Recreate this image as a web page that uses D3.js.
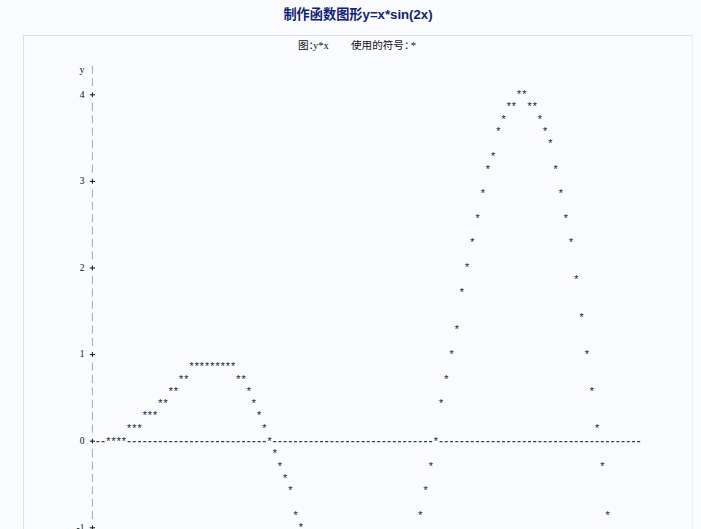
<!DOCTYPE html>
<html>
<head>
<meta charset="utf-8">
<script src="https://cdn.jsdelivr.net/npm/d3@7/dist/d3.min.js"></script>
<style>
  html, body { margin: 0; padding: 0; background: #fafbfe; overflow: hidden; }
  svg { display: block; }
</style>
</head>
<body>
<svg id="chart" width="701" height="529"></svg>
<script>
// ---- data (line-printer plot of y*x, symbol '*') ----
const titleText = "制作函数图形y=x*sin(2x)";
const yTicks = [-1, 0, 1, 2, 3, 4];
const yTickLabels = ["-1", "0", "1", "2", "3", "4"];
const yLabel = "y";
const symbol = "*";

// first hump (x from 0 to 1.85)
const xsA = [0.00, 0.05, 0.10, 0.15, 0.20, 0.25, 0.30, 0.35, 0.40, 0.45,
             0.50, 0.55, 0.60, 0.65, 0.70, 0.75, 0.80, 0.85, 0.90, 0.95,
             1.00, 1.05, 1.10, 1.15, 1.20, 1.25, 1.30, 1.35, 1.40, 1.45,
             1.50, 1.55, 1.60, 1.65, 1.70, 1.75, 1.80, 1.85];
const ysA = [0.00, 0.00, 0.00, 0.00, 0.14, 0.14, 0.14, 0.29, 0.29, 0.29,
             0.43, 0.43, 0.57, 0.57, 0.71, 0.71, 0.86, 0.86, 0.86, 0.86,
             0.86, 0.86, 0.86, 0.86, 0.86, 0.71, 0.71, 0.57, 0.43, 0.29,
             0.14, 0.00, -0.14, -0.29, -0.43, -0.57, -0.86, -1.00];

// second hump (x from 3.00 to 4.80)
const xsB = [3.00, 3.05, 3.10, 3.15, 3.20, 3.25, 3.30, 3.35, 3.40, 3.45,
             3.50, 3.55, 3.60, 3.65, 3.70, 3.75, 3.80, 3.85, 3.90, 3.95,
             4.00, 4.05, 4.10, 4.15, 4.20, 4.25, 4.30, 4.35, 4.40, 4.45,
             4.50, 4.55, 4.60, 4.65, 4.70, 4.75, 4.80];
const ysB = [-0.86, -0.57, -0.29, 0.00, 0.43, 0.71, 1.00, 1.29, 1.71, 2.00,
             2.29, 2.57, 2.86, 3.14, 3.29, 3.57, 3.71, 3.86, 3.86, 4.00,
             4.00, 3.86, 3.86, 3.71, 3.57, 3.43, 3.14, 2.86, 2.57, 2.29,
             1.86, 1.43, 1.00, 0.57, 0.14, -0.29, -0.86];

const refValue = 0;           // vref line
const refRange = [-0.10, 5.10];
const xStep = 0.05;           // one print column
const rowsPerUnit = 7;        // print rows per y unit

// ---- drawing ----
const svg = d3.select("#chart");
const x = d3.scaleLinear().domain([0, 5]).range([108.3, 628.3]);
const y = d3.scaleLinear().domain([-1, 4]).range([527.3, 94.3]);
const axisX = x(-3 * xStep) - 0.3;

// title
svg.append("text")
  .attr("x", 358).attr("y", 18.5)
  .attr("text-anchor", "middle")
  .attr("font-family", "'Liberation Sans', 'Noto Sans CJK SC', sans-serif")
  .attr("font-weight", "bold").attr("font-size", 13.2)
  .attr("fill", "#112277")
  .text(titleText);

// output box
svg.append("rect")
  .attr("x", 23.5).attr("y", 35.5).attr("width", 669).attr("height", 560)
  .attr("fill", "#fafbfe").attr("stroke", "#dfe0e5").attr("stroke-width", 1);
svg.append("line")
  .attr("x1", 692.5).attr("x2", 692.5).attr("y1", 36).attr("y2", 529)
  .attr("stroke", "#eceef3").attr("stroke-width", 1);

// subtitle
const sub = svg.append("text")
  .attr("y", 48.5)
  .attr("font-family", "'Noto Sans CJK SC', sans-serif")
  .attr("font-size", 10.6).attr("fill", "#111")
  .style("font-feature-settings", "'halt' 1");
sub.append("tspan").attr("x", 298).text("图：");
sub.append("tspan").attr("dx", -1).attr("font-family", "'Liberation Serif', serif").text("y*x");
sub.append("tspan").attr("x", 351).text("使用的符号：");
sub.append("tspan").attr("dx", 1.5).attr("font-family", "'Liberation Serif', serif").text(symbol);

// vertical axis made of print rows
const rows = d3.range(-8, 31);
const g = svg.append("g");
g.selectAll("line.vbar")
  .data(rows.filter(r => r % rowsPerUnit !== 0))
  .join("line")
  .attr("class", "vbar")
  .attr("x1", axisX).attr("x2", axisX)
  .attr("y1", r => y(r / rowsPerUnit) - 3.8)
  .attr("y2", r => y(r / rowsPerUnit) + 4.2)
  .attr("stroke", "#a8a8a8").attr("stroke-width", 1);

// ticks "+"
const tickG = g.selectAll("g.tick").data(yTicks).join("g").attr("class", "tick");
tickG.append("line")
  .attr("x1", axisX - 2.6).attr("x2", axisX + 2.6)
  .attr("y1", d => y(d) + 0.5).attr("y2", d => y(d) + 0.5)
  .attr("stroke", "#111").attr("stroke-width", 1);
tickG.append("line")
  .attr("x1", axisX).attr("x2", axisX)
  .attr("y1", d => y(d) - 2).attr("y2", d => y(d) + 2.8)
  .attr("stroke", "#111").attr("stroke-width", 1);
tickG.append("text")
  .attr("x", 84.5).attr("y", d => y(d) + 3.3)
  .attr("text-anchor", "end")
  .attr("font-family", "'Liberation Serif', serif").attr("font-size", 9.5)
  .attr("fill", "#111")
  .text((d, i) => yTickLabels[i]);

// y label
svg.append("text")
  .attr("x", 84.5).attr("y", y(30 / rowsPerUnit) + 3.6)
  .attr("text-anchor", "end")
  .attr("font-family", "'Liberation Serif', serif").attr("font-size", 10)
  .attr("fill", "#111")
  .text(yLabel);

// all points
const pts = xsA.map((v, i) => ({x: v, y: ysA[i]}))
  .concat(xsB.map((v, i) => ({x: v, y: ysB[i]})));

// reference line at y=0 made of '-' columns, hidden under symbols
const onRef = pts.filter(p => Math.abs(p.y - refValue) < 1e-9).map(p => p.x);
const nCols = Math.round((refRange[1] - refRange[0]) / xStep);
const refCols = d3.range(0, nCols + 1).map(i => refRange[0] + i * xStep)
  .filter(c => !onRef.some(v => Math.abs(v - c) < 1e-6));
svg.append("g").selectAll("line")
  .data(refCols)
  .join("line")
  .attr("x1", c => x(c) - 1.5).attr("x2", c => x(c) + 1.5)
  .attr("y1", y(refValue) + 1).attr("y2", y(refValue) + 1)
  .attr("stroke", "#111").attr("stroke-width", 1);

// symbols
svg.append("g").selectAll("text")
  .data(pts)
  .join("text")
  .attr("x", d => x(d.x))
  .attr("y", d => y(d.y) + 3.8)
  .attr("text-anchor", "middle")
  .attr("font-family", "'Liberation Mono', monospace")
  .attr("font-size", 11)
  .attr("fill", "#1c1c2a")
  .text(symbol);
</script>
</body>
</html>
